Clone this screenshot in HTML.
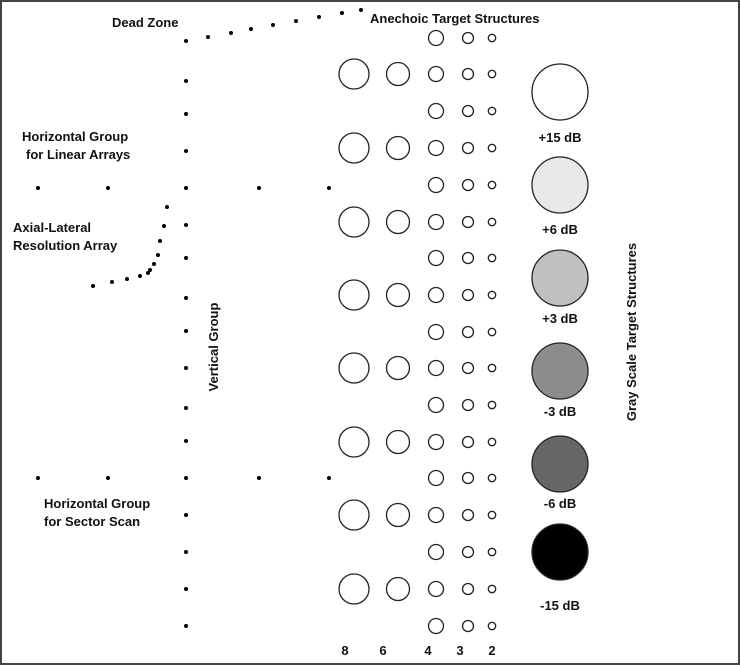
<!DOCTYPE html>
<html><head><meta charset="utf-8"><style>
html,body{margin:0;padding:0;background:#fff;}
svg{display:block;}
text{font-family:"Liberation Sans",Arial,sans-serif;font-weight:bold;font-size:13px;fill:#111;}
</style></head><body>
<svg width="740" height="665" viewBox="0 0 740 665" xmlns="http://www.w3.org/2000/svg">
<rect x="1" y="1" width="738" height="663" fill="#fff" stroke="#444" stroke-width="2"/>
<g fill="#000">
<!-- dead zone -->
<circle cx="208" cy="37" r="2"/><circle cx="231" cy="33" r="2"/><circle cx="251" cy="29" r="2"/><circle cx="273" cy="25" r="2"/><circle cx="296" cy="21" r="2"/><circle cx="319" cy="17" r="2"/><circle cx="342" cy="13" r="2"/><circle cx="361" cy="10" r="2"/>
<!-- vertical -->
<circle cx="186" cy="41" r="2"/><circle cx="186" cy="81" r="2"/><circle cx="186" cy="114" r="2"/><circle cx="186" cy="151" r="2"/><circle cx="186" cy="188" r="2"/><circle cx="186" cy="225" r="2"/><circle cx="186" cy="258" r="2"/><circle cx="186" cy="298" r="2"/><circle cx="186" cy="331" r="2"/><circle cx="186" cy="368" r="2"/><circle cx="186" cy="408" r="2"/><circle cx="186" cy="441" r="2"/><circle cx="186" cy="478" r="2"/><circle cx="186" cy="515" r="2"/><circle cx="186" cy="552" r="2"/><circle cx="186" cy="589" r="2"/><circle cx="186" cy="626" r="2"/>
<!-- horizontal -->
<circle cx="38" cy="188" r="2"/><circle cx="108" cy="188" r="2"/><circle cx="259" cy="188" r="2"/><circle cx="329" cy="188" r="2"/>
<circle cx="38" cy="478" r="2"/><circle cx="108" cy="478" r="2"/><circle cx="259" cy="478" r="2"/><circle cx="329" cy="478" r="2"/>
<!-- axial-lateral -->
<circle cx="167" cy="207" r="2"/><circle cx="164" cy="226" r="2"/><circle cx="160" cy="241" r="2"/><circle cx="158" cy="255" r="2"/><circle cx="154" cy="264" r="2"/><circle cx="150" cy="270" r="2"/><circle cx="148" cy="273" r="2"/><circle cx="140" cy="276" r="2"/><circle cx="127" cy="279" r="2"/><circle cx="112" cy="282" r="2"/><circle cx="93" cy="286" r="2"/>
</g>
<g fill="none" stroke="#222" stroke-width="1.3">
<g id="big">
<circle cx="354" cy="74" r="15"/><circle cx="398" cy="74" r="11.5"/>
<circle cx="354" cy="148" r="15"/><circle cx="398" cy="148" r="11.5"/>
<circle cx="354" cy="222" r="15"/><circle cx="398" cy="222" r="11.5"/>
<circle cx="354" cy="295" r="15"/><circle cx="398" cy="295" r="11.5"/>
<circle cx="354" cy="368" r="15"/><circle cx="398" cy="368" r="11.5"/>
<circle cx="354" cy="442" r="15"/><circle cx="398" cy="442" r="11.5"/>
<circle cx="354" cy="515" r="15"/><circle cx="398" cy="515" r="11.5"/>
<circle cx="354" cy="589" r="15"/><circle cx="398" cy="589" r="11.5"/>
</g>
<g>
<circle cx="436" cy="38" r="7.5"/><circle cx="468" cy="38" r="5.5"/><circle cx="492" cy="38" r="3.7"/>
<circle cx="436" cy="74" r="7.5"/><circle cx="468" cy="74" r="5.5"/><circle cx="492" cy="74" r="3.7"/>
<circle cx="436" cy="111" r="7.5"/><circle cx="468" cy="111" r="5.5"/><circle cx="492" cy="111" r="3.7"/>
<circle cx="436" cy="148" r="7.5"/><circle cx="468" cy="148" r="5.5"/><circle cx="492" cy="148" r="3.7"/>
<circle cx="436" cy="185" r="7.5"/><circle cx="468" cy="185" r="5.5"/><circle cx="492" cy="185" r="3.7"/>
<circle cx="436" cy="222" r="7.5"/><circle cx="468" cy="222" r="5.5"/><circle cx="492" cy="222" r="3.7"/>
<circle cx="436" cy="258" r="7.5"/><circle cx="468" cy="258" r="5.5"/><circle cx="492" cy="258" r="3.7"/>
<circle cx="436" cy="295" r="7.5"/><circle cx="468" cy="295" r="5.5"/><circle cx="492" cy="295" r="3.7"/>
<circle cx="436" cy="332" r="7.5"/><circle cx="468" cy="332" r="5.5"/><circle cx="492" cy="332" r="3.7"/>
<circle cx="436" cy="368" r="7.5"/><circle cx="468" cy="368" r="5.5"/><circle cx="492" cy="368" r="3.7"/>
<circle cx="436" cy="405" r="7.5"/><circle cx="468" cy="405" r="5.5"/><circle cx="492" cy="405" r="3.7"/>
<circle cx="436" cy="442" r="7.5"/><circle cx="468" cy="442" r="5.5"/><circle cx="492" cy="442" r="3.7"/>
<circle cx="436" cy="478" r="7.5"/><circle cx="468" cy="478" r="5.5"/><circle cx="492" cy="478" r="3.7"/>
<circle cx="436" cy="515" r="7.5"/><circle cx="468" cy="515" r="5.5"/><circle cx="492" cy="515" r="3.7"/>
<circle cx="436" cy="552" r="7.5"/><circle cx="468" cy="552" r="5.5"/><circle cx="492" cy="552" r="3.7"/>
<circle cx="436" cy="589" r="7.5"/><circle cx="468" cy="589" r="5.5"/><circle cx="492" cy="589" r="3.7"/>
<circle cx="436" cy="626" r="7.5"/><circle cx="468" cy="626" r="5.5"/><circle cx="492" cy="626" r="3.7"/>
</g>
<circle cx="560" cy="92" r="28" fill="#fff"/>
<circle cx="560" cy="185" r="28" fill="#e8e8e8"/>
<circle cx="560" cy="278" r="28" fill="#c0c0c0"/>
<circle cx="560" cy="371" r="28" fill="#8c8c8c"/>
<circle cx="560" cy="464" r="28" fill="#676767"/>
<circle cx="560" cy="552" r="28" fill="#000"/>
</g>
<text x="112" y="27">Dead Zone</text>
<text x="370" y="23">Anechoic Target Structures</text>
<text x="22" y="141">Horizontal Group</text>
<text x="26" y="159">for Linear Arrays</text>
<text x="13" y="232">Axial-Lateral</text>
<text x="13" y="250">Resolution Array</text>
<text x="44" y="508">Horizontal Group</text>
<text x="44" y="526">for Sector Scan</text>
<text text-anchor="middle" x="560" y="142">+15 dB</text>
<text text-anchor="middle" x="560" y="234">+6 dB</text>
<text text-anchor="middle" x="560" y="323">+3 dB</text>
<text text-anchor="middle" x="560" y="416">-3 dB</text>
<text text-anchor="middle" x="560" y="508">-6 dB</text>
<text text-anchor="middle" x="560" y="610">-15 dB</text>
<text text-anchor="middle" x="345" y="655">8</text>
<text text-anchor="middle" x="383" y="655">6</text>
<text text-anchor="middle" x="428" y="655">4</text>
<text text-anchor="middle" x="460" y="655">3</text>
<text text-anchor="middle" x="492" y="655">2</text>
<text text-anchor="middle" transform="translate(218,347) rotate(-90)">Vertical Group</text>
<text text-anchor="middle" transform="translate(636,332) rotate(-90)">Gray Scale Target Structures</text>
</svg>
</body></html>
